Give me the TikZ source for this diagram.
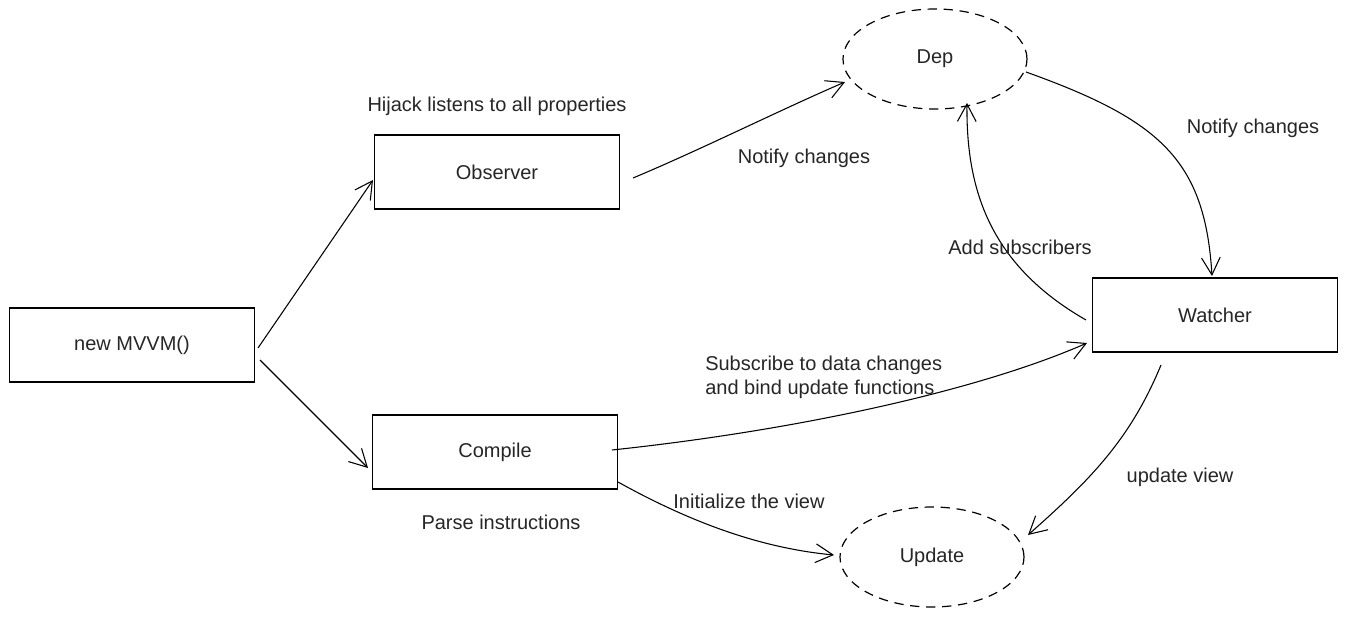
\documentclass[tikz,border=0pt]{standalone}
\usepackage{fontspec}
\setmainfont{Liberation Sans}
\usetikzlibrary{arrows.meta,shapes.geometric}
\definecolor{txt}{HTML}{262626}
\begin{document}
\begin{tikzpicture}[x=0.75pt,y=-0.75pt,
  font=\fontsize{15}{18}\selectfont,
  box/.style={draw,line width=1.2pt,minimum width=183.75pt,minimum height=55.5pt,inner sep=0pt,text=txt},
  oval/.style={draw,dashed,dash pattern=on 7pt off 5pt,line width=0.9pt,ellipse,minimum width=138pt,minimum height=75pt,inner sep=0pt,text=txt},
  conn/.style={line width=0.8pt,-{Straight Barb[length=13pt,width=14pt,line width=0.8pt]}},
  lbl/.style={inner sep=0pt,align=left,text=txt}]
\useasboundingbox (0,0) rectangle (1347,617);
\node[box] (mvvm) at (132,345) {new MVVM()};
\node[box] (obs) at (497,172) {Observer};
\node[box] (comp) at (495,452) {Compile};
\node[box] (watch) at (1215,315) {Watcher};
\node[oval] (dep) at (935,59) {Dep};
\node[oval] (upd) at (932,557) {Update};

\coordinate (a1s) at (258,348); \coordinate (a1e) at (373,180);
\coordinate (a2s) at (260,360); \coordinate (a2e) at (368,468);
\coordinate (a3s) at (633,178); \coordinate (a3e) at (845,82);
\coordinate (a4s) at (1026,72); \coordinate (a4e) at (1212,276);
\coordinate (a5s) at (1086,320); \coordinate (a5e) at (967,103);
\coordinate (a6s) at (612,450); \coordinate (a6e) at (1087,343);
\coordinate (a7s) at (618,482); \coordinate (a7e) at (834,555);
\coordinate (a8s) at (1161,365); \coordinate (a8e) at (1028,535);

\draw[conn] (a1s) -- (a1e);
\draw[conn] (a2s) -- (a2e);
\draw[conn] (a3s) .. controls (700,150) and (780,110) .. (a3e);
\draw[conn] (a4s) .. controls (1160,120) and (1205,160) .. (a4e);
\draw[conn] (a5s) .. controls (990,265) and (966,190) .. (a5e);
\draw[conn] (a6s) .. controls (800,430) and (980,390) .. (a6e);
\draw[conn] (a7s) .. controls (690,522) and (760,548) .. (a7e);
\draw[conn] (a8s) .. controls (1130,440) and (1090,480) .. (a8e);

\node[lbl] (t1) at (497,106) {Hijack listens to all properties};
\node[lbl] (t2) at (804,158) {Notify changes};
\node[lbl] (t3) at (1253,128) {Notify changes};
\node[lbl] (t4) at (1020,247) {Add subscribers};
\node[lbl,anchor=west] (t5) at (705,377) {Subscribe to data changes\\and bind update functions};
\node[lbl] (t6) at (749,501) {Initialize the view};
\node[lbl] (t7) at (1180,477) {update view};
\node[lbl] (t8) at (501,522) {Parse instructions};
\end{tikzpicture}
\end{document}
